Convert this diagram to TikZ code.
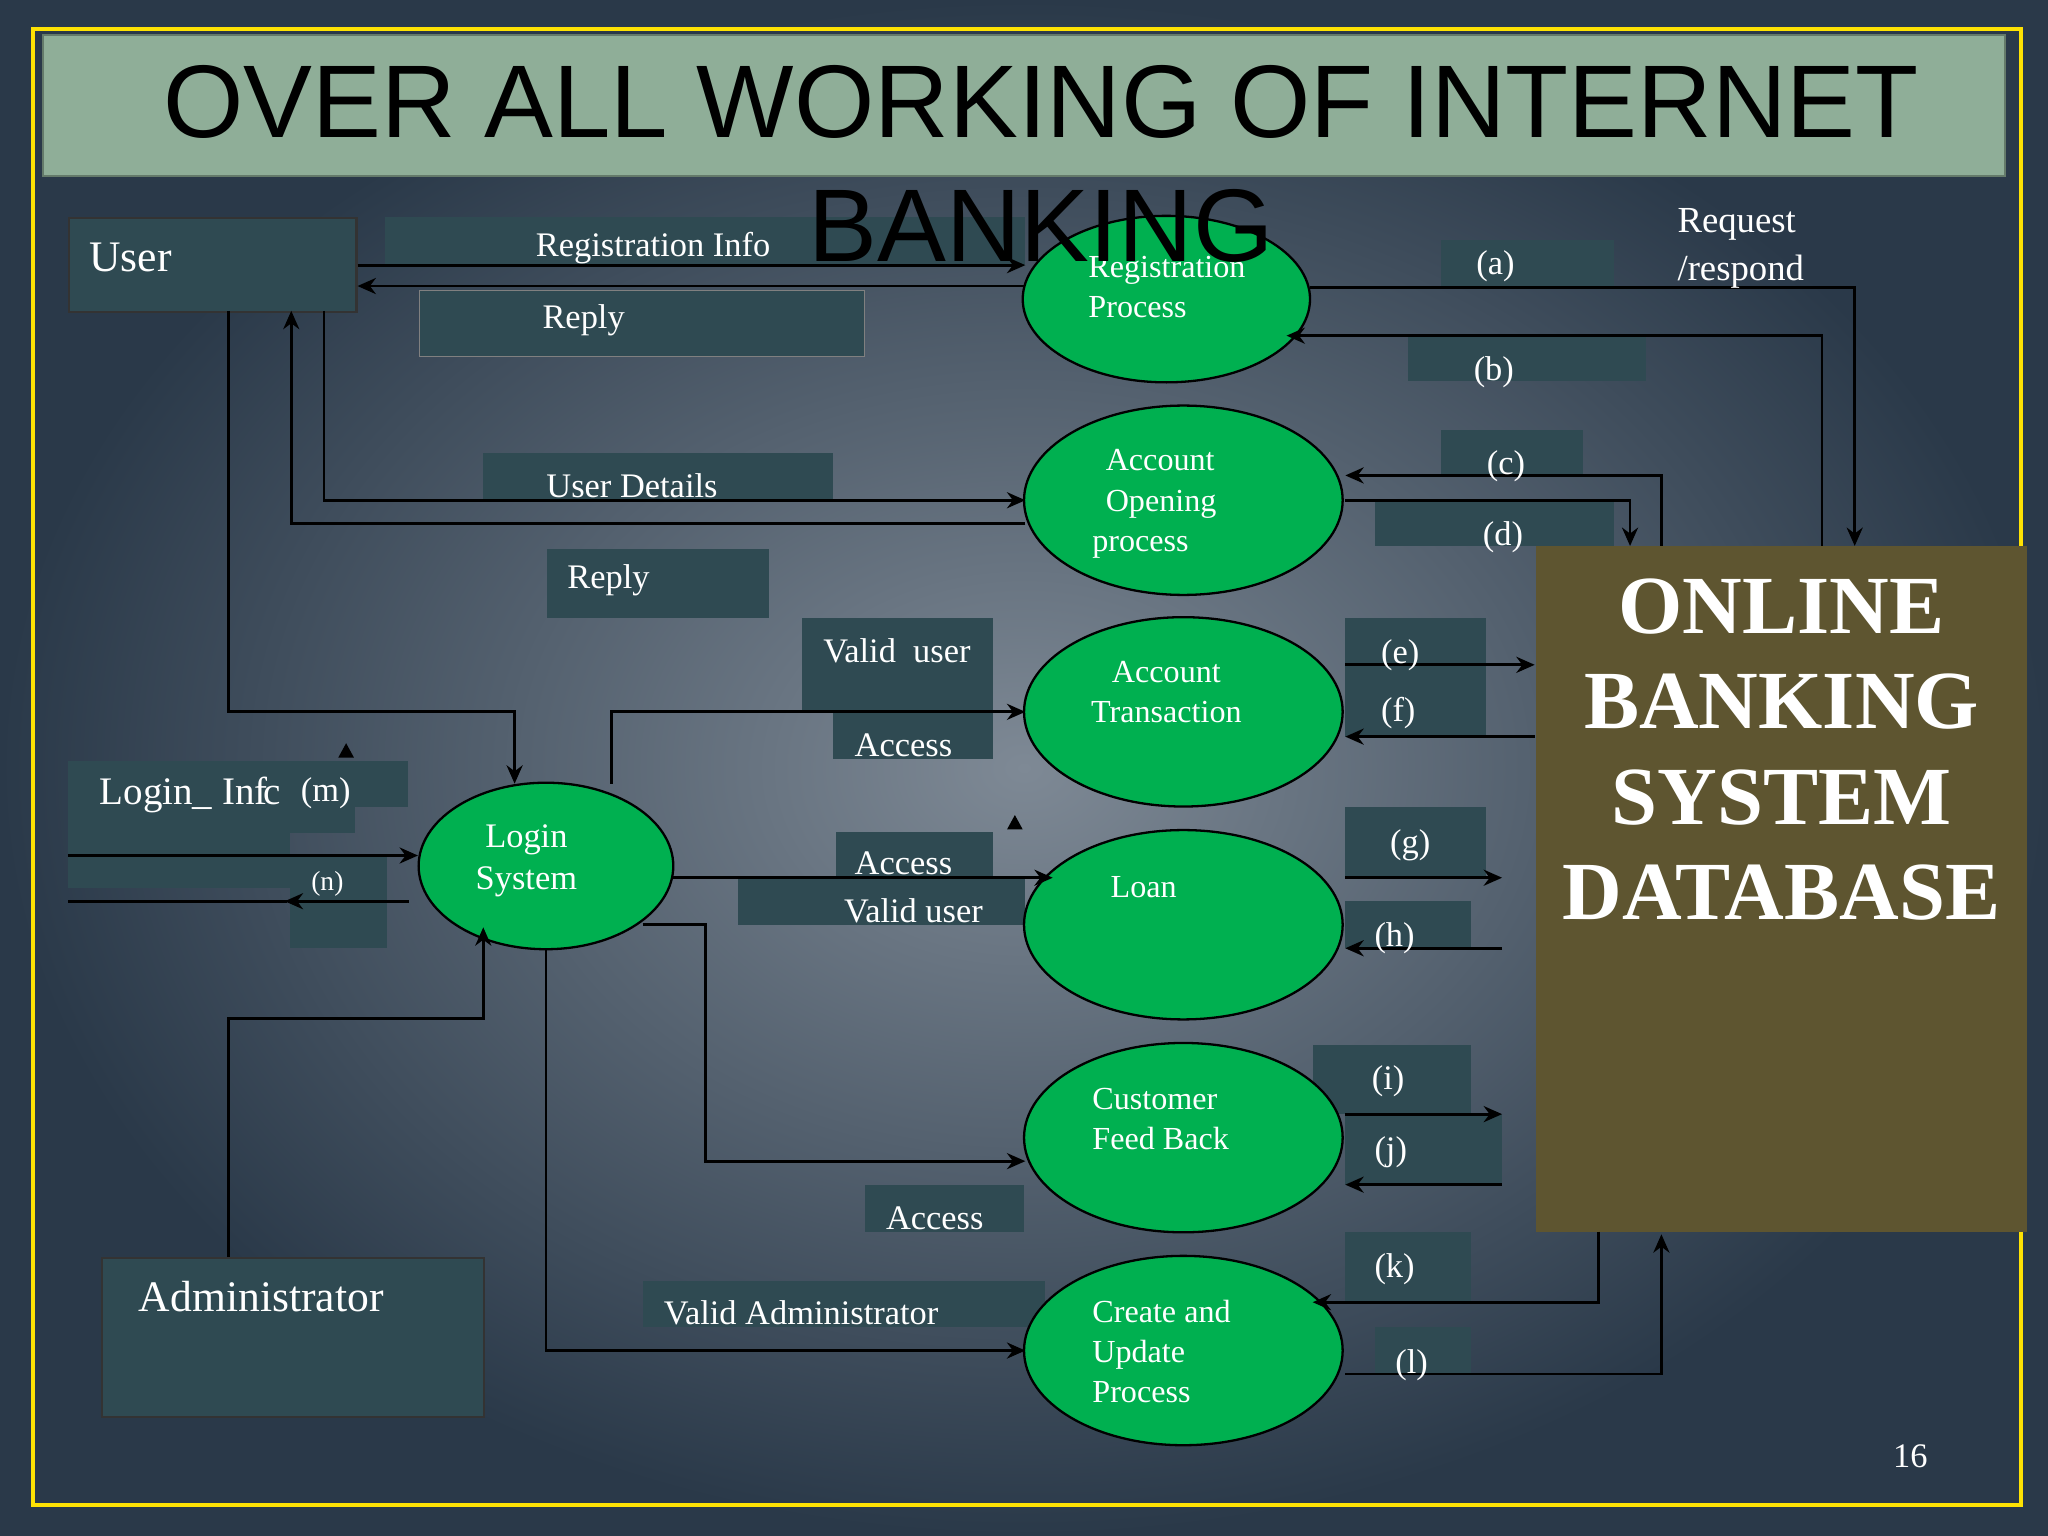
\documentclass[tikz,border=0pt]{standalone}
\usepackage{fontspec}
\setmainfont{Liberation Serif}
\newfontfamily\titlefont{Liberation Sans}
\usetikzlibrary{shapes.geometric,arrows.meta}
\definecolor{boxc}{HTML}{2F4A52}
\definecolor{ellc}{HTML}{00B050}
\definecolor{dbc}{HTML}{5E5530}
\definecolor{titc}{HTML}{8FAE98}
\definecolor{bgin}{HTML}{7E8995}
\definecolor{bgout}{HTML}{2A3949}
\tikzset{
 lbl/.style={text=white,font=\fontsize{15}{18}\selectfont,inner sep=0pt},
 etx/.style={text=white,font=\fontsize{14}{17.5}\selectfont,inner sep=0pt,align=left,anchor=north west},
 dbox/.style={fill=boxc},
 proc/.style={ellipse,fill=ellc,draw=black,line width=1pt,minimum width=4.88cm,minimum height=2.9cm},
 con/.style={draw=black,line width=1.2pt,-{Stealth[length=8pt,width=7pt]}},
 ln/.style={draw=black,line width=1.2pt}
}
\begin{document}
\begin{tikzpicture}[x=0.02cm,y=-0.02cm]
\useasboundingbox (0,0) rectangle (1568,1176);
\shade[inner color=bgin, outer color=bgout] (0,0) rectangle (1568,1176);
\draw[yellow!85!orange,line width=1.8pt] (25,22) rectangle (1547,1152);
% title
\fill[titc,draw=titc!70!black,line width=1pt] (33,27) rectangle (1535,135);
% dark boxes
\fill[dbox] (295,166) rectangle (785,203);
\fill[dbox,draw=gray] (321,222) rectangle (662,273);
\fill[dbox] (1103,184) rectangle (1236,219);
\fill[dbox] (1078,257) rectangle (1260,292);
\fill[dbox] (1103,329) rectangle (1212,364);
\fill[dbox] (1053,383) rectangle (1236,418);
\fill[dbox] (370,347) rectangle (638,383);
\fill[dbox] (419,420) rectangle (589,473);
\fill[dbox] (614,473) rectangle (760,545);
\fill[dbox] (638,545) rectangle (760,581);
\fill[dbox] (52,583) rectangle (312,618);
\fill[dbox] (52,618) rectangle (272,638);
\fill[dbox] (52,638) rectangle (222,680);
\fill[dbox] (222,655) rectangle (296,726);
\fill[dbox] (640,637) rectangle (760,672);
\fill[dbox] (565,672) rectangle (785,708);
\fill[dbox] (1030,473) rectangle (1138,564);
\fill[dbox] (1030,618) rectangle (1138,672);
\fill[dbox] (1030,690) rectangle (1126,726);
\fill[dbox] (1005,800) rectangle (1126,853);
\fill[dbox] (1030,853) rectangle (1150,907);
\fill[dbox] (662,907) rectangle (784,943);
\fill[dbox] (1030,943) rectangle (1126,997);
\fill[dbox] (1053,1016) rectangle (1126,1052);
\fill[dbox] (492,981) rectangle (800,1016);
% entities
\node[dbox,draw=black!80,line width=1pt,minimum width=4.4cm,minimum height=1.44cm,anchor=north west,inner sep=0pt] (user) at (52,166) {};
\node[lbl,font=\fontsize{19}{22}\selectfont,anchor=west] at (68,197) {User};
\node[dbox,draw=black!80,line width=1pt,minimum width=5.86cm,minimum height=2.44cm,anchor=north west,inner sep=0pt] (admin) at (77,962) {};
\node[lbl,font=\fontsize{19}{22}\selectfont,anchor=west] at (106,993) {Administrator};
\node[fill=dbc,minimum width=7.52cm,minimum height=10.5cm,anchor=north west,inner sep=0pt] (db) at (1176,418) {};
\node[text=white,font=\bfseries\fontsize{36}{41.5}\selectfont,align=center,anchor=north] at (1364,437) {ONLINE\\BANKING\\SYSTEM\\DATABASE};
% ellipses
\node[proc,minimum width=4.4cm,minimum height=2.55cm] (reg) at (893,229) {};
\node[proc] (acc) at (906,383) {};
\node[proc] (tr) at (906,545) {};
\node[proc] (loan) at (906,708) {};
\node[proc] (fb) at (906,871) {};
\node[proc] (cu) at (906,1034) {};
\node[proc,minimum width=3.9cm,minimum height=2.55cm] (login) at (418,663) {};
\node[etx] at (833,196) {Registration\\Process};
\node[etx] at (836,344) {\ \,Account\\\ \,Opening\\process};
\node[etx,align=center,anchor=north] at (893,506) {Account\\Transaction};
\node[etx] at (850,671) {Loan};
\node[etx] at (836,833) {Customer\\Feed Back};
\node[etx] at (836,995) {Create and\\Update\\Process};
\node[etx,align=center,anchor=north,font=\fontsize{15}{18.5}\selectfont] at (403,631) {Login\\System};
% connectors
\draw[con] (user.east |- 0,203) -- (785,203);
\draw[con] (785,219) -- (user.east |- 0,219);
\draw[con] (1003,220) -- (1420,220) -- (1420,418);
\draw[con] (1395,418) -- (1395,257) -- (985,257);
\draw[con] (248,238) -- (248,383) -- (785,383);
\draw[con] (785,401) -- (223,401) -- (223,238);
\draw[con] (1272,418) -- (1272,364) -- (1030,364);
\draw[con] (1030,383) -- (1248,383) -- (1248,418);
\draw[con] (175,238) -- (175,545) -- (394,545) -- (394,600);
\draw[con] (468,600) -- (468,545) -- (785,545);
\draw[con] (1030,509) -- (1175,509);
\draw[con] (1175,564) -- (1030,564);
\draw[con] (515,672) -- (806,672);
\draw[con] (1030,672) -- (1150,672);
\draw[con] (1150,726) -- (1030,726);
\draw[con] (492,708) -- (540,708) -- (540,889) -- (785,889);
\draw[con] (1030,853) -- (1150,853);
\draw[con] (1150,907) -- (1030,907);
\draw[con] (418,726) -- (418,1034) -- (785,1034);
\draw[con] (175,962) -- (175,780) -- (370,780) -- (370,710);
\draw[con] (1224,943) -- (1224,997) -- (1005,997);
\draw[con] (1030,1052) -- (1272,1052) -- (1272,945);
\draw[con] (52,655) -- (320,655);
\draw[con] (313,690) -- (218,690);
\draw[ln] (220,690) -- (52,690);
\fill[black] (259,580) -- (265,569) -- (271,580) -- cycle;
\fill[black] (771,635) -- (777,624) -- (783,635) -- cycle;
% labels
\node[lbl,anchor=west] at (410,190) {Registration Info};
\node[lbl,anchor=west] at (415,245) {Reply};
\node[lbl,anchor=west] at (1130,204) {(a)};
\node[lbl,anchor=west] at (1128,285) {(b)};
\node[lbl,anchor=west] at (1138,357) {(c)};
\node[lbl,anchor=west] at (1135,411) {(d)};
\node[lbl,anchor=west] at (418,372) {User Details};
\node[lbl,anchor=west] at (434,444) {Reply};
\node[lbl,anchor=west] at (630,498) {Valid\ \ user};
\node[lbl,anchor=west] at (654,571) {Access};
\node[lbl,anchor=west,font=\fontsize{17}{20}\selectfont] at (76,609) {Login\_ Inf{\kern-0.1em}c};
\node[lbl,anchor=west] at (230,607) {(m)};
\node[lbl,anchor=west,font=\fontsize{12}{14}\selectfont] at (238,677) {(n)};
\node[lbl,anchor=west] at (654,661) {Access};
\node[lbl,anchor=west] at (646,697) {Valid user};
\node[lbl,anchor=west] at (1057,502) {(e)};
\node[lbl,anchor=west] at (1057,546) {(f)};
\node[lbl,anchor=west] at (1064,647) {(g)};
\node[lbl,anchor=west] at (1052,718) {(h)};
\node[lbl,anchor=west] at (1050,828) {(i)};
\node[lbl,anchor=west] at (1052,882) {(j)};
\node[lbl,anchor=west] at (678,933) {Access};
\node[lbl,anchor=west] at (1052,972) {(k)};
\node[lbl,anchor=west] at (1068,1045) {(l)};
\node[lbl,anchor=west] at (508,1005) {Valid Administrator};
\node[lbl,anchor=west,font=\fontsize{16}{19}\selectfont] at (1284,172) {Request};
\node[lbl,anchor=west,font=\fontsize{16}{19}\selectfont] at (1284,208) {/respond};
\node[lbl,anchor=west] at (1449,1115) {16};
% title text
\node[font=\titlefont\fontsize{45}{54}\selectfont,align=center,anchor=north,inner sep=0pt] (title) at (797,50) {OVER ALL WORKING OF INTERNET\\BANKING};
\end{tikzpicture}
\end{document}
